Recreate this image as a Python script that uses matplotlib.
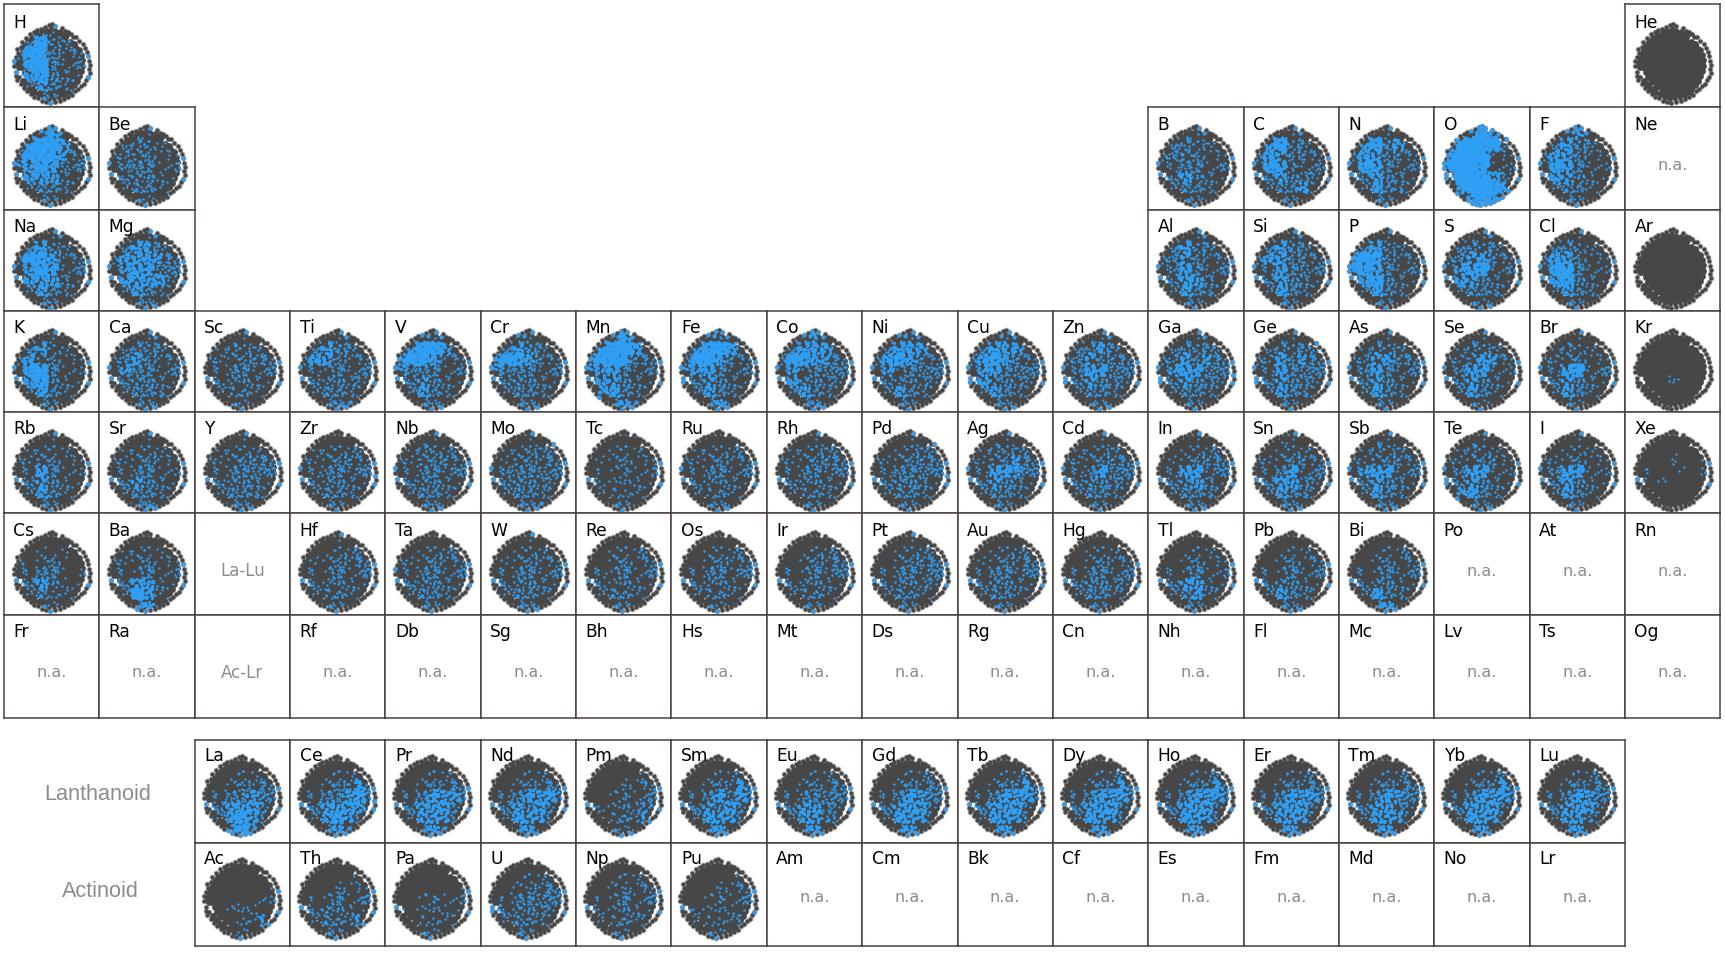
import matplotlib
matplotlib.use('Agg')
import matplotlib.pyplot as plt

W, H = 1725, 954

# table layout, one list per row, empty string = no cell
table_rows = [
    ['H'] + [''] * 16 + ['He'],
    ['Li', 'Be'] + [''] * 10 + ['B', 'C', 'N', 'O', 'F', 'Ne'],
    ['Na', 'Mg'] + [''] * 10 + ['Al', 'Si', 'P', 'S', 'Cl', 'Ar'],
    ['K', 'Ca', 'Sc', 'Ti', 'V', 'Cr', 'Mn', 'Fe', 'Co', 'Ni', 'Cu', 'Zn', 'Ga', 'Ge', 'As', 'Se', 'Br', 'Kr'],
    ['Rb', 'Sr', 'Y', 'Zr', 'Nb', 'Mo', 'Tc', 'Ru', 'Rh', 'Pd', 'Ag', 'Cd', 'In', 'Sn', 'Sb', 'Te', 'I', 'Xe'],
    ['Cs', 'Ba', 'La-Lu', 'Hf', 'Ta', 'W', 'Re', 'Os', 'Ir', 'Pt', 'Au', 'Hg', 'Tl', 'Pb', 'Bi', 'Po', 'At', 'Rn'],
    ['Fr', 'Ra', 'Ac-Lr', 'Rf', 'Db', 'Sg', 'Bh', 'Hs', 'Mt', 'Ds', 'Rg', 'Cn', 'Nh', 'Fl', 'Mc', 'Lv', 'Ts', 'Og'],
]
lan_rows = [
    ['', '', 'La', 'Ce', 'Pr', 'Nd', 'Pm', 'Sm', 'Eu', 'Gd', 'Tb', 'Dy', 'Ho', 'Er', 'Tm', 'Yb', 'Lu'],
    ['', '', 'Ac', 'Th', 'Pa', 'U', 'Np', 'Pu', 'Am', 'Cm', 'Bk', 'Cf', 'Es', 'Fm', 'Md', 'No', 'Lr'],
]

row_edges = [4.5, 108, 211, 312, 413, 514, 616, 719]
lan_edges = [741, 844, 947]

# gray background map, px offsets from the disc centre
core_y = [-32, -27, -22, -17, -12, -7, -2, 3, 8, 13, 18, 23, 28]
core_x = [
    [-9, -4, 1],
    [-16, -11, -6, -1, 4, 9, 13],
    [-22, -17, -12, -7, -2, 3, 8, 13, 18],
    [-26, -21, -16, -11, -6, -1, 4, 9, 14, 19, 23],
    [-29, -24, -19, -14, -9, -4, 1, 6, 11, 16, 21, 25],
    [-31, -26, -21, -16, -11, -6, -1, 4, 9, 14, 19, 24, 28],
    [-32, -28, -23, -18, -13, -8, -3, 2, 7, 12, 17, 22, 26, 29],
    [-30, -25, -20, -15, -10, -5, 0, 5, 10, 15, 20, 25, 29],
    [-27, -22, -17, -12, -7, -2, 3, 8, 13, 18, 23, 27],
    [-25, -20, -15, -10, -5, 0, 5, 10, 15, 20, 25],
    [-22, -17, -12, -7, -2, 3, 8, 13, 18, 22],
    [-17, -12, -7, -2, 3, 8, 13, 18],
    [-11, -6, -1, 4, 9],
]
# core points joining the rim where the reference shows no white gap
bridge_x = [-31, -29, -27, -24, -20, -15, -10, 5, 10, 14, -33, -34, -33, -4, 1, 6, -18, -13, -8, -22, -26, -29, 11, 17,
            22, 27, 29, 30, 30, 29, 27, 25, 22, 18, 14]
bridge_y = [-10, -14, -18, -22, -26, -29, -31, -31, -30, -29, -6, -1, 3, 32, 32, 31, 28, 30, 32, 25, 21, 17, 30, 28,
            -20, -14, -9, -4, 2, 7, 12, 17, 21, 25, 28]
rim_x = [-3, 0, 3, -7, -11, -15, -1, 3, -5, 10, 13, 8, 16, 19, 21, 24, 27, 31, 33, 35, 36, 37, 38, 37, 38, 36, 34,
         32, 29, 26, 23, 20, 16, 12, 8, 3, -2, -6, -10, -14, -18, -21, -25, -28, -31, -35, -36, -33, -36, -38,
         -38, -36, -34, -35, -31, -30, -26, -22, -18, -8, -3, 2, 7, 12, -20, -24]
rim_y = [-39, -40, -38, -37, -35, -34, -36, -34, -34, -36, -33, -33, -32, -30, -27, -27, -23, -20, -16, -12, -8, -3, 1, 5, 9, 13, 16,
         20, 22, 25, 27, 31, 33, 35, 37, 38, 39, 38, 37, 34, 33, 30, 27, 24, 20, 16, 12, 13, 8, 2,
         -3, -7, -11, -15, -17, -22, -26, -30, -32, 34, 35, 35, 34, 32, 26, 22]

# positions where the blue points can sit
blue_y = [-32, -28, -24, -20, -16, -12, -8, -4, 0, 4, 8, 12, 16, 20, 24, 28, 32]
blue_x = [
    [-8, -3, 1],
    [-15, -10, -6, -2, 2, 7, 11],
    [-20, -16, -11, -7, -3, 1, 6, 10, 14, 18],
    [-24, -19, -15, -11, -6, -2, 3, 7, 11, 16, 20, 23],
    [-27, -22, -18, -13, -9, -5, 0, 4, 8, 13, 17, 21, 25],
    [-29, -25, -21, -16, -12, -7, -3, 1, 6, 10, 14, 19, 23, 27],
    [-31, -27, -23, -18, -14, -10, -5, -1, 3, 8, 12, 16, 21, 25, 28],
    [-33, -29, -25, -20, -16, -12, -7, -3, 2, 6, 10, 15, 19, 23, 27, 30],
    [-32, -28, -23, -19, -15, -10, -6, -2, 3, 7, 11, 16, 20, 24, 28, 30],
    [-30, -26, -22, -17, -13, -9, -4, 0, 5, 9, 13, 18, 22, 26, 29],
    [-28, -24, -19, -15, -11, -6, -2, 2, 7, 11, 15, 20, 24, 28],
    [-26, -22, -18, -13, -9, -4, 0, 4, 9, 13, 17, 22, 26],
    [-24, -20, -15, -11, -7, -2, 2, 6, 11, 15, 19, 24],
    [-21, -17, -12, -8, -4, 1, 5, 9, 14, 18, 22],
    [-16, -11, -7, -3, 2, 6, 11, 15, 18],
    [-11, -6, -2, 3, 7, 11],
    [-5, 0, 4],
]
stipple = [3, 8, 0, 6, 1, 9, 4, 7, 2, 5, 8, 1, 6, 0, 9, 3, 5, 2, 7, 4, 0, 9, 6]
shift_x = [1.3, -1.1, 0.4, -1.7, 0.9, -0.3, 1.8, -0.8, 0.2, -1.4, 1.1]
shift_y = [-0.9, 1.4, 0.3, -1.5, 1.0, -0.2, 0.7, -1.2, 1.6, 0.1, -0.6, 1.2, -1.7]
spot_x = [0, 2, -2, 1]
spot_y = [0, 2, 1, -2]

# how blue each part of the disc is, read by eye: 7 rows of 7 levels (0-9, a = solid)
blue_map = {
    'H': '0012100 0373321 2893321 3892321 2674311 0454320 0022100',
    'He': '0000000 0000000 0000000 0000000 0000000 0000000 0000000',
    'Li': '0047300 0788521 4787522 5676422 3565322 0343320 0022100',
    'Be': '0011000 0233211 1333211 2443212 1343212 0233110 0011000',
    'B': '0011200 0442311 3443211 2343221 1362321 0343310 0012100',
    'C': '0011200 0583411 3653421 2761321 1363431 0243520 0012100',
    'N': '0012100 0574511 3663421 3763321 2463421 0263420 0022100',
    'O': '0069800 0aaaa42 7aaa311 aaa7211 4aa9641 0aaaa61 00aaa60',
    'F': '0026300 0364411 2564311 4752311 3552211 0443210 0022100',
    'Na': '0011200 0463311 2776322 3675322 2565423 0354320 0023100',
    'Mg': '0012300 0355421 2565532 2565433 3565533 0454320 0023200',
    'Al': '0011200 0353421 2454322 2454322 3465423 0254420 0022100',
    'Si': '0012200 0354421 2563422 2354422 2464423 0264320 0022100',
    'P': '0012100 0463311 7874321 8754321 3673311 0463310 0012100',
    'S': '0011200 0342411 3455421 3567321 2653321 0343421 0011200',
    'Cl': '0011100 0443211 3662211 2873311 2673311 0352310 0012100',
    'Ar': '0000000 0000000 0000000 0000000 0000000 0000000 0000000',
    'K': '0012100 0352211 2532211 3772211 3672211 0363210 0032100',
    'Ca': '0012200 0243421 1463321 2544322 3344323 0243420 0032200',
    'Sc': '0001100 0122321 1222433 1233323 2222322 0122210 0011000',
    'Ti': '0012200 0354421 3662322 3322322 3333332 0244320 0034300',
    'V': '0023300 0678511 6885321 6443221 2453321 0453310 0033200',
    'Cr': '0023100 0354411 5775422 5443322 2443322 0343320 0023200',
    'Mn': '0047300 0788621 5887432 6554321 3554321 0564320 0036300',
    'Fe': '0024200 0577621 4986422 5553321 4454322 0454320 0035200',
    'Co': '0025300 0466521 4776532 4523432 3543332 0454320 0034200',
    'Ni': '0023200 0466521 3675422 4522432 3432332 0354320 0023100',
    'Cu': '0013200 0465521 4675422 4653432 4544332 0454320 0023200',
    'Zn': '0012200 0345421 3454433 3465433 4454434 0344320 0012200',
    'Ga': '0011200 0243431 2364533 2565434 4454433 0344320 0022100',
    'Ge': '0011100 0232441 2264533 2354433 4354434 0354420 0022100',
    'As': '0011000 0122321 1355432 3453322 3453322 0354310 0022100',
    'Se': '0011100 0122311 1236521 2455311 2453321 0353210 0011100',
    'Br': '0001000 0121211 1223211 2367322 3354312 0253210 0021100',
    'Kr': '0000000 0000000 0000000 0000000 0001000 0000000 0000000',
    'Rb': '0001100 0111111 1133211 1264211 2453211 0252210 0022100',
    'Sr': '0001100 0112211 1123311 1232211 2353321 0343320 0034200',
    'Y': '0001100 0112221 1123432 1233433 2333422 0243420 0023200',
    'Zr': '0000100 0112231 1123423 2333334 2233322 0233320 0022100',
    'Nb': '0001100 0123231 1134422 2233332 3333321 0243320 0023200',
    'Mo': '0001100 0113341 0134332 4434423 3443332 0343330 0023300',
    'Tc': '0000000 0011121 0112212 0111212 2111211 0111110 0012100',
    'Ru': '0000100 0112231 1123323 2233323 3222321 0112210 0012200',
    'Rh': '0001100 0112331 1124432 1233333 3322322 0122320 0012100',
    'Pd': '0001100 0012341 1124433 1344434 3344423 0233320 0012100',
    'Ag': '0001100 0123331 1134532 2356533 3354423 0344320 0022100',
    'Cd': '0001100 0112321 1224432 2335433 3344434 0343320 0012100',
    'In': '0001100 0011231 0113432 1355333 3345424 0344430 0032200',
    'Sn': '0011100 0012221 1124422 1245323 3465434 0354430 0023200',
    'Sb': '0011100 0122321 1134422 4565323 3454423 0353320 0033200',
    'Te': '0001000 0122211 1124411 2456311 4454321 0563320 0022200',
    'I': '0001000 0012211 1112211 2466311 2463211 0252210 0012100',
    'Xe': '0000000 0000001 0001001 0100101 3010001 0000000 0000000',
    'Cs': '0000000 0010101 1012100 1143101 2462111 0241110 0011100',
    'Ba': '0000100 0112101 1122212 1222112 2365221 0275210 0046100',
    'Hf': '0001100 0001231 0112333 1222223 3222221 0122210 0012100',
    'Ta': '0000100 0012231 1113323 2234322 3333321 0243320 0022100',
    'W': '0001100 0012221 0122323 1233322 3233322 0343230 0023200',
    'Re': '0000100 0012131 0023223 1322222 2212221 0132210 0012100',
    'Os': '0000100 0012131 0022323 1232232 2222222 0122210 0011100',
    'Ir': '0000100 0002231 0012333 1222333 3222222 0122210 0012100',
    'Pt': '0001100 0012231 0022443 1232333 2232232 0132210 0022100',
    'Au': '0000100 0011231 0112332 1243333 3243322 0233220 0012100',
    'Hg': '0000100 0011121 0013321 1234323 2344333 0243230 0012100',
    'Tl': '0000000 0001111 0012211 1123212 3355222 0345230 0022100',
    'Pb': '0000000 0001121 0012222 1123322 3243222 0354330 0032200',
    'Bi': '0000000 0001131 0012222 1123323 2233222 0364320 0036200',
    'La': '0000100 0001101 0012332 1244543 3466544 0467540 0067500',
    'Ce': '0000100 0001121 0013453 1244564 3365564 0357540 0035300',
    'Pr': '0000000 0001121 0013343 1245553 2365543 0356540 0035300',
    'Nd': '0000000 0001121 0012344 1345563 2364543 0366540 0035200',
    'Pm': '0000000 0000011 0001122 0011222 1112245 0012350 0011200',
    'Sm': '0000000 0001121 0012353 1245453 2354544 0366540 0036200',
    'Eu': '0000000 0001121 0012232 1134443 2355434 0355440 0035200',
    'Gd': '0000000 0001131 0013343 1245543 2356534 0366530 0036200',
    'Tb': '0000000 0001131 0013453 1245653 2365634 0366540 0035200',
    'Dy': '0000000 0001131 0013453 1246653 2366634 0366540 0035200',
    'Ho': '0000000 0001131 0013453 1246653 2366534 0366540 0035200',
    'Er': '0000000 0001131 0013343 1245653 2366534 0355530 0035200',
    'Tm': '0000000 0001131 0013343 1245543 2355433 0355530 0035200',
    'Yb': '0000000 0001131 0013453 1245553 2365534 0366530 0035200',
    'Lu': '0000000 0001131 0013343 1245543 2355533 0355430 0035200',
    'Ac': '0000000 0000000 0000001 0000011 0011101 0001150 0001100',
    'Th': '0000000 0000011 0001111 0112222 2242222 0232350 0022100',
    'Pa': '0000000 0000000 0000001 0011112 1011112 0011120 0011100',
    'U': '0000100 0001121 0011342 0133433 5233332 0332320 0022100',
    'Np': '0000000 0001111 0011121 0112222 3112222 0212230 0011100',
    'Pu': '0000000 0000011 0001122 0011122 1111122 0111140 0011100',
}

gray = '#474747'
blue = '#2f9ff5'
line = '#4a4040'
soft = '#8c8c8c'

pool_x, pool_y = [], []
for y, xs in zip(blue_y, blue_x):
    pool_x += xs
    pool_y += [y] * len(xs)

gray_x, gray_y = list(bridge_x), list(bridge_y)
for y, xs in zip(core_y, core_x):
    gray_x += xs
    gray_y += [y] * len(xs)


def level_at(levels, x, y):
    r = min(6, max(0, int((y + 39) / 78 * 7)))
    c = min(6, max(0, int((x + 39) / 78 * 7)))
    return int(levels[r][c], 16)


def draw_disc(ax, name, cx, cy):
    ax.scatter([x + cx for x in rim_x], [y + cy for y in rim_y], s=18, c=gray, lw=0, alpha=0.3)
    ax.scatter([x + cx for x in gray_x], [y + cy for y in gray_y], s=24, c=gray, lw=0)
    ax.scatter([x + cx for x in rim_x], [y + cy for y in rim_y], s=9, c=gray, lw=0)
    levels = blue_map[name].split()
    bx = {3: [], 6: [], 10: []}
    by = {3: [], 6: [], 10: []}
    for i, (x0, y0) in enumerate(zip(pool_x, pool_y)):
        # every pool position offers a few nearby spots, for a finer speckle
        for k in range(4):
            x = x0 + shift_x[(i + 4 * k) % len(shift_x)] + spot_x[k]
            y = y0 + shift_y[(i + 5 * k) % len(shift_y)] + spot_y[k]
            d = level_at(levels, x, y)
            if stipple[(i + 7 * k) % len(stipple)] < d:
                s = 10 if d >= 7 else 6 if d >= 5 else 3
                bx[s].append(x + cx)
                by[s].append(y + cy)
    for s in bx:
        ax.scatter(bx[s], by[s], s=s, c=blue, lw=0)
    rx, ry = [], []
    for i, (x, y) in enumerate(zip(rim_x, rim_y)):
        if stipple[i % len(stipple)] < level_at(levels, x, y):
            rx.append(x + cx)
            ry.append(y + cy)
    ax.scatter(rx, ry, s=9, c=blue, lw=0)


def draw_cell(name, left, top, w, h, cx, cy, base, mid):
    ax = fig.add_axes([left / W, 1 - (top + h) / H, w / W, h / H])
    ax.set_xlim(0, w)
    ax.set_ylim(h, 0)
    ax.set_xticks([])
    ax.set_yticks([])
    for s in ax.spines.values():
        s.set_color(line)
        s.set_linewidth(1.1)
    if name in ('La-Lu', 'Ac-Lr'):
        ax.text(w / 2, mid, name, color=soft, fontsize=12, ha='center', va='center')
        return
    if name in blue_map:
        draw_disc(ax, name, cx, cy)
    else:
        ax.text(w / 2, mid, 'n.a.', color=soft, fontsize=11.5, ha='center', va='center')
    ax.text(9.5, base, name, color='black', fontsize=12.3, ha='left', va='baseline', zorder=5)


fig = plt.figure(figsize=(W / 100, H / 100), dpi=100)
fig.patch.set_facecolor('white')

col_left = 4
col_w = 95.35

for r, names in enumerate(table_rows):
    top = row_edges[r]
    h = row_edges[r + 1] - top
    for c, name in enumerate(names):
        if name:
            draw_cell(name, col_left + c * col_w, top, col_w, h, 48, 60 if r == 0 else 59, 24 if r == 0 else 21.5, 57)

for r, names in enumerate(lan_rows):
    top = lan_edges[r]
    h = lan_edges[r + 1] - top
    for c, name in enumerate(names):
        if name:
            draw_cell(name, col_left + c * col_w, top, col_w, h, 47, 55.5, 20, 54)

fig.text(97.5 / W, 1 - 795 / H, 'Lanthanoid', color=soft, fontsize=15.6, family='Liberation Sans', ha='center', va='center')
fig.text(100 / W, 1 - 892 / H, 'Actinoid', color=soft, fontsize=15.6, family='Liberation Sans', ha='center', va='center')

plt.savefig('out.png', dpi=100)
